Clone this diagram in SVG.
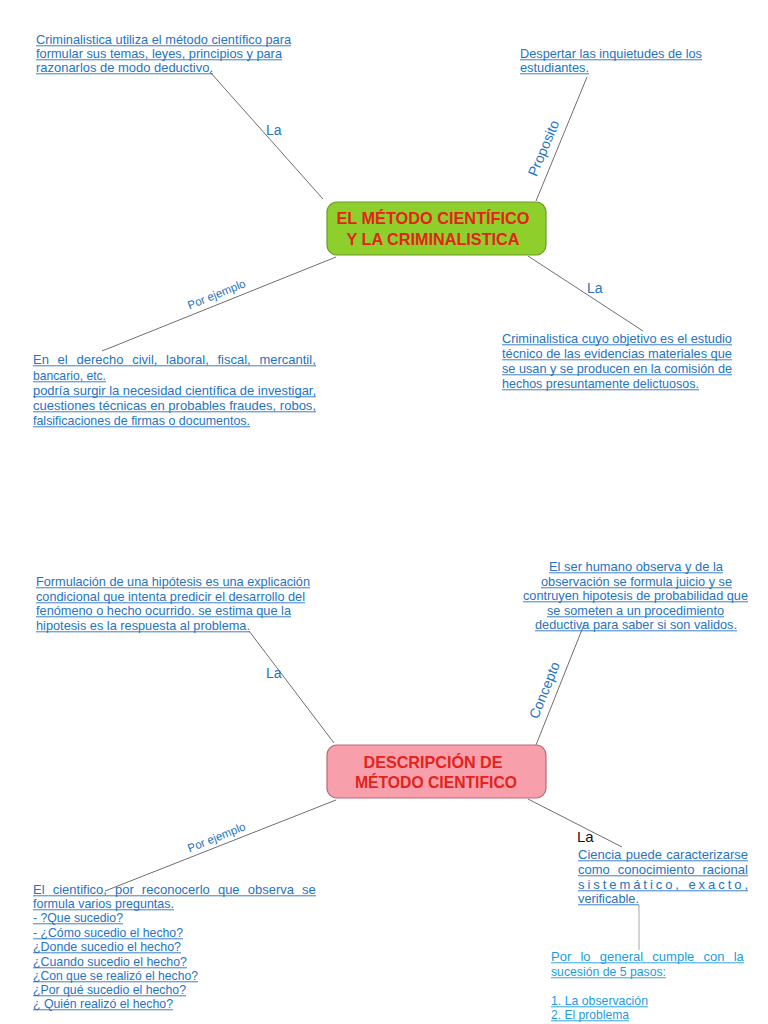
<svg xmlns="http://www.w3.org/2000/svg" width="768" height="1024" viewBox="0 0 768 1024">
<style>
.t{font-family:"Liberation Sans",Arial,sans-serif;font-size:13px;fill:#2673c0}
.c{font-family:"Liberation Sans",Arial,sans-serif;font-size:13px;fill:#1e9be0}
.ul{stroke:#2673c0;stroke-width:0.9;fill:none}
.ulc{stroke:#1e9be0;stroke-width:0.9;fill:none}
.lbl{font-family:"Liberation Sans",Arial,sans-serif;fill:#2673c0}
.hd{font-family:"Liberation Sans",Arial,sans-serif;font-weight:bold;fill:#e3231c;text-anchor:middle}
.ln{stroke:#6e6e6e;stroke-width:1;fill:none}
</style>
<rect width="768" height="1024" fill="#ffffff"/>
<g id="connectors">
<line class="ln" x1="210" y1="72" x2="323" y2="199"/>
<line class="ln" x1="587" y1="77" x2="536" y2="201"/>
<line class="ln" x1="336" y1="257" x2="102" y2="351"/>
<line class="ln" x1="528" y1="256" x2="643" y2="331"/>
<line class="ln" x1="249" y1="631" x2="334" y2="743"/>
<line class="ln" x1="585" y1="622" x2="536" y2="745"/>
<line class="ln" x1="336" y1="800" x2="105" y2="891"/>
<line class="ln" x1="528" y1="799" x2="622" y2="847"/>
<line x1="639" y1="905" x2="639" y2="950" stroke="#a8a8a8" stroke-width="1"/>
<text class="lbl" x="266" y="135" font-size="14">La</text>
<text class="lbl" font-size="14" text-anchor="middle" transform="translate(548,150) rotate(-67)">Proposito</text>
<text class="lbl" font-size="11.5" text-anchor="middle" transform="translate(218,298) rotate(-22)">Por ejemplo</text>
<text class="lbl" x="587" y="293" font-size="14">La</text>
<text class="lbl" x="266" y="678" font-size="14">La</text>
<text class="lbl" font-size="14" text-anchor="middle" transform="translate(549,692) rotate(-68)">Concepto</text>
<text class="lbl" font-size="11.5" text-anchor="middle" transform="translate(218,841) rotate(-22)">Por ejemplo</text>
<text x="577" y="842" font-size="15" font-family="Liberation Sans,Arial,sans-serif" fill="#111111">La</text>
</g>
<g id="node-main1">
<rect x="327" y="202" width="219" height="53" rx="10" fill="#8fcf2b" stroke="#6b9a2c" stroke-width="1.2"/>
<text class="hd" x="433" y="224" font-size="16.5" textLength="193" lengthAdjust="spacingAndGlyphs">EL MÉTODO CIENTÍFICO</text>
<text class="hd" x="433" y="245" font-size="16.5" textLength="173" lengthAdjust="spacingAndGlyphs">Y LA CRIMINALISTICA</text>
</g>
<g id="node-tl">
<text class="t" x="36" y="44" textLength="255" lengthAdjust="spacingAndGlyphs">Criminalistica utiliza el método científico para</text>
<text class="t" x="36" y="58" textLength="246" lengthAdjust="spacingAndGlyphs">formular sus temas, leyes, principios y para</text>
<text class="t" x="36" y="72" textLength="177" lengthAdjust="spacingAndGlyphs">razonarlos de modo deductivo.</text>
<path class="ul" d="M36 45.8h255M36 59.8h246M36 73.8h177"/>
</g>
<g id="node-tr">
<text class="t" x="520" y="58" textLength="182" lengthAdjust="spacingAndGlyphs">Despertar las inquietudes de los</text>
<text class="t" x="520" y="72" textLength="69" lengthAdjust="spacingAndGlyphs">estudiantes.</text>
<path class="ul" d="M520 59.8h182M520 73.8h69"/>
</g>
<g id="node-bl">
<text class="t" x="33" y="364" word-spacing="5.1">En el derecho civil, laboral, fiscal, mercantil,</text>
<text class="t" x="33" y="380" textLength="73" lengthAdjust="spacingAndGlyphs">bancario, etc.</text>
<text class="t" x="33" y="395" textLength="283" lengthAdjust="spacingAndGlyphs">podría surgir la necesidad científica de investigar,</text>
<text class="t" x="33" y="410" textLength="283" lengthAdjust="spacingAndGlyphs">cuestiones técnicas en probables fraudes, robos,</text>
<text class="t" x="33" y="425" textLength="217" lengthAdjust="spacingAndGlyphs">falsificaciones de firmas o documentos.</text>
<path class="ul" d="M33 365.8h283M33 381.8h73M33 396.8h283M33 411.8h283M33 426.8h217"/>
</g>
<g id="node-br">
<text class="t" x="502" y="343" textLength="230" lengthAdjust="spacingAndGlyphs">Criminalistica cuyo objetivo es el estudio</text>
<text class="t" x="502" y="358" textLength="230" lengthAdjust="spacingAndGlyphs">técnico de las evidencias materiales que</text>
<text class="t" x="502" y="373" textLength="230" lengthAdjust="spacingAndGlyphs">se usan y se producen en la comisión de</text>
<text class="t" x="502" y="388" textLength="197" lengthAdjust="spacingAndGlyphs">hechos presuntamente delictuosos.</text>
<path class="ul" d="M502 344.8h230M502 359.8h230M502 374.8h230M502 389.8h197"/>
</g>
<g id="node-main2">
<rect x="327" y="745" width="219" height="53" rx="10" fill="#f7a0ab" stroke="#b96a74" stroke-width="1.2"/>
<text class="hd" x="433" y="768" font-size="16.5" textLength="139" lengthAdjust="spacingAndGlyphs">DESCRIPCIÓN DE</text>
<text class="hd" x="436" y="788" font-size="16.5" textLength="162" lengthAdjust="spacingAndGlyphs">MÉTODO CIENTIFICO</text>
</g>
<g id="node-hip">
<text class="t" x="36" y="586" textLength="274" lengthAdjust="spacingAndGlyphs">Formulación de una hipótesis es una explicación</text>
<text class="t" x="36" y="601" textLength="269" lengthAdjust="spacingAndGlyphs">condicional que intenta predicir el desarrollo del</text>
<text class="t" x="36" y="615" textLength="255" lengthAdjust="spacingAndGlyphs">fenómeno o hecho ocurrido. se estima que la</text>
<text class="t" x="36" y="630" textLength="214" lengthAdjust="spacingAndGlyphs">hipotesis es la respuesta al problema.</text>
<path class="ul" d="M36 587.8h274M36 602.8h269M36 616.8h255M36 631.8h214"/>
</g>
<g id="node-concepto">
<text class="t" x="549" y="571" textLength="174" lengthAdjust="spacingAndGlyphs">El ser humano observa y de la</text>
<text class="t" x="541" y="586" textLength="191" lengthAdjust="spacingAndGlyphs">observación se formula juicio y se</text>
<text class="t" x="523" y="600" textLength="225" lengthAdjust="spacingAndGlyphs">contruyen hipotesis de probabilidad que</text>
<text class="t" x="547" y="615" textLength="177" lengthAdjust="spacingAndGlyphs">se someten a un procedimiento</text>
<text class="t" x="535" y="629" textLength="202" lengthAdjust="spacingAndGlyphs">deductiva para saber si son validos.</text>
<path class="ul" d="M549 572.8h174M541 587.8h191M523 601.8h225M547 616.8h177M535 630.8h202"/>
</g>
<g id="node-preguntas">
<text class="t" x="33" y="894" word-spacing="4.5">El cientifico, por reconocerlo que observa se</text>
<text class="t" x="33" y="908" textLength="141" lengthAdjust="spacingAndGlyphs">formula varios preguntas.</text>
<text class="t" x="33" y="922" textLength="90" lengthAdjust="spacingAndGlyphs">- ?Que sucedio?</text>
<text class="t" x="33" y="937" textLength="150" lengthAdjust="spacingAndGlyphs">- ¿Cómo sucedio el hecho?</text>
<text class="t" x="33" y="951" textLength="148" lengthAdjust="spacingAndGlyphs">¿Donde sucedio el hecho?</text>
<text class="t" x="33" y="966" textLength="154" lengthAdjust="spacingAndGlyphs">¿Cuando sucedio el hecho?</text>
<text class="t" x="33" y="980" textLength="165" lengthAdjust="spacingAndGlyphs">¿Con que se realizó el hecho?</text>
<text class="t" x="33" y="994" textLength="153" lengthAdjust="spacingAndGlyphs">¿Por qué sucedio el hecho?</text>
<text class="t" x="33" y="1008" textLength="140" lengthAdjust="spacingAndGlyphs">¿ Quién realizó el hecho?</text>
<path class="ul" d="M33 895.8h283M33 909.8h141M33 923.8h90M33 938.8h150M33 952.8h148M33 967.8h154M33 981.8h165M33 995.8h153M33 1009.8h140"/>
</g>
<g id="node-ciencia">
<text class="t" x="578" y="859" word-spacing="0.8">Ciencia puede caracterizarse</text>
<text class="t" x="578" y="874" word-spacing="4.4">como conocimiento racional</text>
<text class="t" x="578" y="889" textLength="170" lengthAdjust="spacing">sistemático, exacto,</text>
<text class="t" x="578" y="903" textLength="61" lengthAdjust="spacingAndGlyphs">verificable.</text>
<path class="ul" d="M578 860.8h170M578 875.8h170M578 890.8h170M578 904.8h61"/>
</g>
<g id="node-pasos">
<text class="c" x="551" y="961" word-spacing="5.6">Por lo general cumple con la</text>
<text class="c" x="551" y="976" textLength="115" lengthAdjust="spacingAndGlyphs">sucesión de 5 pasos:</text>
<text class="c" x="551" y="1005" textLength="97" lengthAdjust="spacingAndGlyphs">1. La observación</text>
<text class="c" x="551" y="1019" textLength="78" lengthAdjust="spacingAndGlyphs">2. El problema</text>
<path class="ulc" d="M551 962.8h193M551 977.8h115M551 1006.8h97M551 1020.8h78"/>
</g>
</svg>
